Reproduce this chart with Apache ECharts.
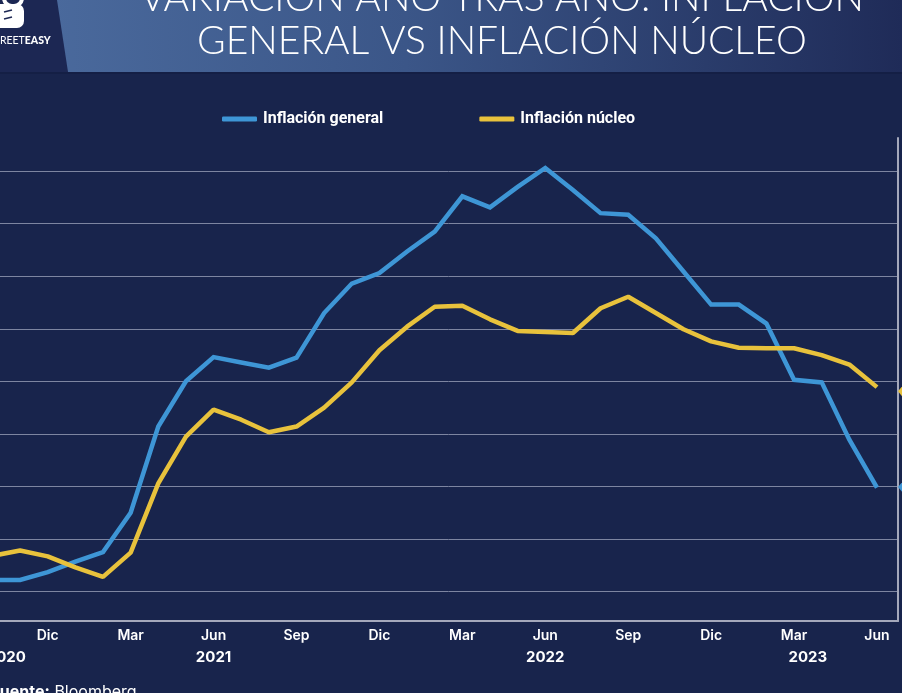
<!DOCTYPE html>
<html><head><meta charset="utf-8">
<script src="https://cdn.jsdelivr.net/npm/echarts@6/dist/echarts.min.js"></script>
<style>html,body{margin:0;padding:0;background:#18244c;} #c{width:902px;height:693px;}</style>
</head><body><div id="c"></div>
<script>
// ---- data ----
const months = ['2020-10','2020-11','2020-12',
  '2021-01','2021-02','2021-03','2021-04','2021-05','2021-06','2021-07','2021-08','2021-09','2021-10','2021-11','2021-12',
  '2022-01','2022-02','2022-03','2022-04','2022-05','2022-06','2022-07','2022-08','2022-09','2022-10','2022-11','2022-12',
  '2023-01','2023-02','2023-03','2023-04','2023-05','2023-06'];
const general = [1.22,1.22,1.37,
  1.57,1.75,2.50,4.14,5.00,5.46,5.36,5.26,5.45,6.30,6.86,7.06,
  7.47,7.85,8.52,8.31,8.70,9.06,8.64,8.20,8.17,7.72,7.09,6.46,
  6.46,6.10,5.03,4.98,3.89,2.98];
const core = [1.68,1.78,1.67,
  1.46,1.28,1.74,3.06,3.95,4.46,4.27,4.03,4.14,4.50,4.98,5.59,
  6.04,6.42,6.44,6.18,5.96,5.94,5.92,6.39,6.61,6.30,5.99,5.76,
  5.64,5.63,5.63,5.50,5.32,4.89];
const seriesNames = ['Inflación general','Inflación núcleo'];
const monthAbbr = ['Ene','Feb','Mar','Abr','May','Jun','Jul','Ago','Sep','Oct','Nov','Dic'];
const yTicks = [1,2,3,4,5,6,7,8,9];
const yearTickPos = [-1.5, 6, 18, 27.5];
const yearLabels = ['2020','2021','2022','2023'];
const endValues = [2.99, 4.81];
const title1 = 'VARIACIÓN AÑO TRAS AÑO: INFLACIÓN';
const title2 = 'GENERAL VS INFLACIÓN NÚCLEO';
const sourceBold = 'Fuente:';
const sourceText = ' Bloomberg';

// month index relative to Dic 2020
function mIdx(s){ const [y,m]=s.split('-').map(Number); return (y-2020)*12 + (m-12); }
const X_MIN = -3, X_MAX = 30.76;
const genData = general.map((v,i)=>[mIdx(months[i]), v]);
const coreData = core.map((v,i)=>[mIdx(months[i]), v]);

const BLUE = '#3e96d6', YELLOW = '#e8c23c', GRID = '#7d85a1', AXIS = '#a4a8bb';
const chart = echarts.init(document.getElementById('c'), null, {renderer:'canvas'});
const axisFont = 'Inter, "Noto Sans", sans-serif';

chart.setOption({
  animation: false,
  backgroundColor: '#18244c',
  grid: { left: -35.2, right: 4, top: 138, bottom: 72, outerBoundsMode: 'none', containLabel: false },
  legend: {
    data: seriesNames, left: 222, top: 111, padding: 0, itemWidth: 35, itemHeight: 5, itemGap: 96,
    icon: 'roundRect',
    textStyle: { color: '#ffffff', fontSize: 16, fontWeight: 'bold', fontFamily: '"Liberation Sans Narrow","Arial Narrow","Roboto",sans-serif', padding:[0,0,0,1] }
  },
  xAxis: [{
    type: 'value', min: X_MIN, max: X_MAX, interval: 3,
    axisLine: { show: true, onZero: false, lineStyle: { color: AXIS, width: 2 } },
    axisTick: { show: false },
    splitLine: { show: false },
    axisLabel: {
      color: '#ffffff', fontSize: 14, fontWeight: 600, fontFamily: axisFont, margin: 8,
      showMaxLabel: false,
      formatter: v => (Math.abs(v - Math.round(v)) > 1e-6) ? '' : monthAbbr[((Math.round(v) + 11) % 12 + 12) % 12]
    }
  }, {
    type: 'value', min: X_MIN, max: X_MAX, position: 'bottom',
    axisLine: { show: false, onZero: false }, axisTick: { show: false }, splitLine: { show: false },
    axisLabel: {
      customValues: yearTickPos, color: '#ffffff', fontSize: 15, fontWeight: 700, fontFamily: axisFont, margin: 29,
      formatter: v => { const k = yearTickPos.findIndex(t => Math.abs(t - v) < 1e-6); return k >= 0 ? yearLabels[k] : ''; }
    }
  }],
  yAxis: {
    type: 'value', position: 'right', min: 0.44, max: 9.63,
    axisLine: { show: true, onZero: false, lineStyle: { color: AXIS, width: 2 } },
    axisTick: { show: false, customValues: yTicks },
    axisLabel: { show: false, customValues: yTicks },
    splitLine: { show: true, lineStyle: { color: GRID, width: 1 } }
  },
  series: [{
    name: seriesNames[0], type: 'line', data: genData, showSymbol: false, xAxisIndex: 0,
    lineStyle: { color: BLUE, width: 4.5, join: 'miter' }, itemStyle: { color: BLUE }, z: 3,
    markPoint: { symbol: 'diamond', symbolSize: [10, 12], symbolOffset: [5, 0], silent: true,
      label: { show: false }, itemStyle: { color: BLUE },
      data: [{ coord: [X_MAX, endValues[0]] }] }
  }, {
    name: seriesNames[1], type: 'line', data: coreData, showSymbol: false, xAxisIndex: 0,
    lineStyle: { color: YELLOW, width: 4.5 }, itemStyle: { color: YELLOW }, z: 4,
    markPoint: { symbol: 'diamond', symbolSize: [10, 12], symbolOffset: [5, 0], silent: true,
      label: { show: false }, itemStyle: { color: YELLOW },
      data: [{ coord: [X_MAX, endValues[1]] }] }
  }],
  graphic: [
    { type: 'rect', left: 0, top: 0, z: -1, silent: true,
      shape: { width: 902, height: 72 },
      style: { fill: new echarts.graphic.LinearGradient(0, 0, 1, 0, [
        { offset: 0, color: '#4c6c9f' }, { offset: 0.45, color: '#3b5688' }, { offset: 1, color: '#1f2b58' }]) } },
    { type: 'polygon', z: 0, silent: true,
      shape: { points: [[0,0],[57,0],[68,72],[0,72]] }, style: { fill: '#1c2753' } },
    { type: 'rect', left: 0, top: 72, z: 0, silent: true, shape: { width: 902, height: 2 }, style: { fill: '#141f45' } },
    // logo glyph (simplified)
    { type: 'group', z: 1, silent: true, children: [
      { type: 'rect', shape: { x: -6, y: 4, width: 30, height: 24, r: 7 }, style: { fill: '#ffffff' } },
      { type: 'rect', shape: { x: 4, y: -10, width: 18, height: 16, r: 8 }, style: { fill: 'none', stroke: '#ffffff', lineWidth: 4 } },
      { type: 'line', shape: { x1: 4, y1: 12, x2: 12, y2: 10 }, style: { stroke: '#1c2753', lineWidth: 1.5 } },
      { type: 'line', shape: { x1: 4, y1: 19, x2: 12, y2: 17 }, style: { stroke: '#1c2753', lineWidth: 1.5 } }
    ]},
    { type: 'text', z: 1, silent: true, left: -12, top: 35,
      style: { text: '{a|ST}{a|REET}{b|EASY}', rich: {
        a: { fill: '#ffffff', fontSize: 10.5, fontFamily: 'Lato, sans-serif', fontWeight: 400 },
        b: { fill: '#ffffff', fontSize: 10.5, fontFamily: 'Lato, sans-serif', fontWeight: 900 } } } },
    { type: 'text', z: 1, silent: true, x: 502, y: -2,
      style: { text: title1, fill: '#ffffff', fontSize: 39, fontWeight: 300, fontFamily: 'Lato, sans-serif', align: 'center', verticalAlign: 'middle' } },
    { type: 'text', z: 1, silent: true, x: 502, y: 41,
      style: { text: title2, fill: '#ffffff', fontSize: 39, fontWeight: 300, fontFamily: 'Lato, sans-serif', align: 'center', verticalAlign: 'middle' } },
    { type: 'text', z: 1, silent: true, x: -9, y: 692,
      style: { text: '{b|' + sourceBold + '}{r|' + sourceText + '}', verticalAlign: 'middle', rich: {
        b: { fill: '#ffffff', fontSize: 16, fontWeight: 700, fontFamily: axisFont },
        r: { fill: '#ffffff', fontSize: 16, fontWeight: 400, fontFamily: axisFont } } } }
  ]
});
</script></body></html>
